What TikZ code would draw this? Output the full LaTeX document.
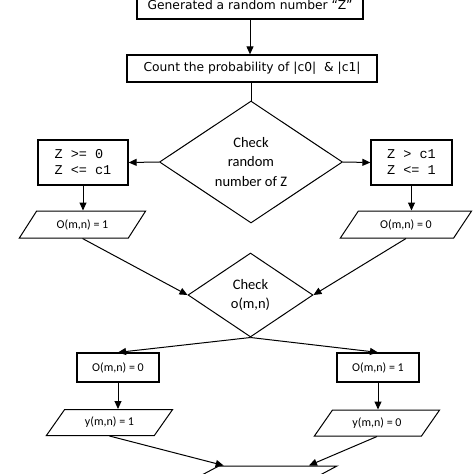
\documentclass[tikz,border=0pt]{standalone}
\usepackage{fontspec}
\setmainfont{DejaVu Sans}
\newfontfamily\calfont{Carlito}
\newfontfamily\codefont{Liberation Mono}
\usetikzlibrary{positioning, calc, arrows, arrows.meta, shapes}
\tikzset{procbox/.style={draw, line width=1.3pt, rectangle, inner sep=0pt, font=\fontsize{12.3}{15}\selectfont}}
\tikzset{condbox/.style={procbox, align=left, font=\codefont\fontsize{13.5}{16}\selectfont}}
\tikzset{valbox/.style={draw, line width=1.2pt, rectangle, inner sep=0pt, minimum width=82, minimum height=29, font=\calfont\fontsize{12}{14}\selectfont}}
\tikzset{iobox/.style={draw, line width=1pt, trapezium, trapezium left angle=47, trapezium right angle=133, trapezium stretches=true, inner sep=0pt, minimum height=27, font=\calfont\fontsize{12}{14}\selectfont}}
\tikzset{decision/.style={draw, line width=1pt, diamond, inner sep=0pt, align=center, font=\calfont\fontsize{14.5}{19.5}\selectfont}}
\tikzset{flow/.style={line width=1pt, -{Triangle[length=8pt, width=7pt]}}}

\begin{document}
\begin{tikzpicture}[x=1pt, y=-1pt]
  \useasboundingbox (0,0) rectangle (474,474);
  \clip (0,0) rectangle (474,474);

  \node[procbox, minimum width=226, minimum height=29] (gen) at (250,4.5) {Generated a random number “Z”};
  \node[procbox, minimum width=250, minimum height=27] (prob) at (252,68.5) {Count the probability of |c0|\ \ \& |c1|};

  \node[decision, minimum width=183, minimum height=122] (chk1) at (251,162) {Check\\random\\number of Z};
  \node[condbox, minimum width=90, minimum height=45] (zl) at (83,162.5) {Z >= 0\\Z <= c1};
  \node[condbox, minimum width=81, minimum height=45] (zr) at (411.5,162.5) {Z > c1\\Z <= 1};

  \node[iobox, minimum width=127] (ol) at (82.5,224.5) {O(m,n) = 1};
  \node[iobox, minimum width=132] (or) at (406,224.5) {O(m,n) = 0};

  \node[decision, minimum width=125, minimum height=84] (chk2) at (250.5,295) {Check\\o(m,n)};

  \node[valbox] (bl) at (118,367.5) {O(m,n) = 0};
  \node[valbox] (br) at (378,367.5) {O(m,n) = 1};

  \node[iobox, minimum width=127, minimum height=26] (yl) at (109.5,422.5) {y(m,n) = 1};
  \node[iobox, minimum width=126, minimum height=26] (yr) at (377,423) {y(m,n) = 0};

  \node[iobox, inner sep=2pt, trapezium left angle=53, trapezium right angle=127, minimum width=169] (end) at (252.5,479.5) {};
  \coordinate (endl) at ($(end.top left corner)+(5,0)$);
  \coordinate (endr) at ($(end.top right corner)+(-30,0)$);

  % connectors
  \draw[flow] (gen.south) -- (gen.south |- prob.north);
  \draw[line width=1pt] (prob.south -| chk1.north) -- (chk1.north);
  \draw[flow] (chk1.west) -- (zl.east);
  \draw[flow] (chk1.east) -- (zr.west);
  \draw[flow] (zl.south) -- (zl.south |- ol.north);
  \draw[flow] (zr.south) -- (zr.south |- or.north);
  \draw[flow] (ol.south) -- (chk2.west);
  \draw[flow] (or.south) -- (chk2.east);
  \draw[flow] (chk2.south) -- (bl.north);
  \draw[flow] (chk2.south) -- (br.north);
  \draw[flow] (bl.south) -- (bl.south |- yl.north);
  \draw[flow] (br.south) -- (br.south |- yr.north);
  \draw[flow] (yl.south) -- (endl);
  \draw[flow] (yr.south) -- (endr);
\end{tikzpicture}
\end{document}
